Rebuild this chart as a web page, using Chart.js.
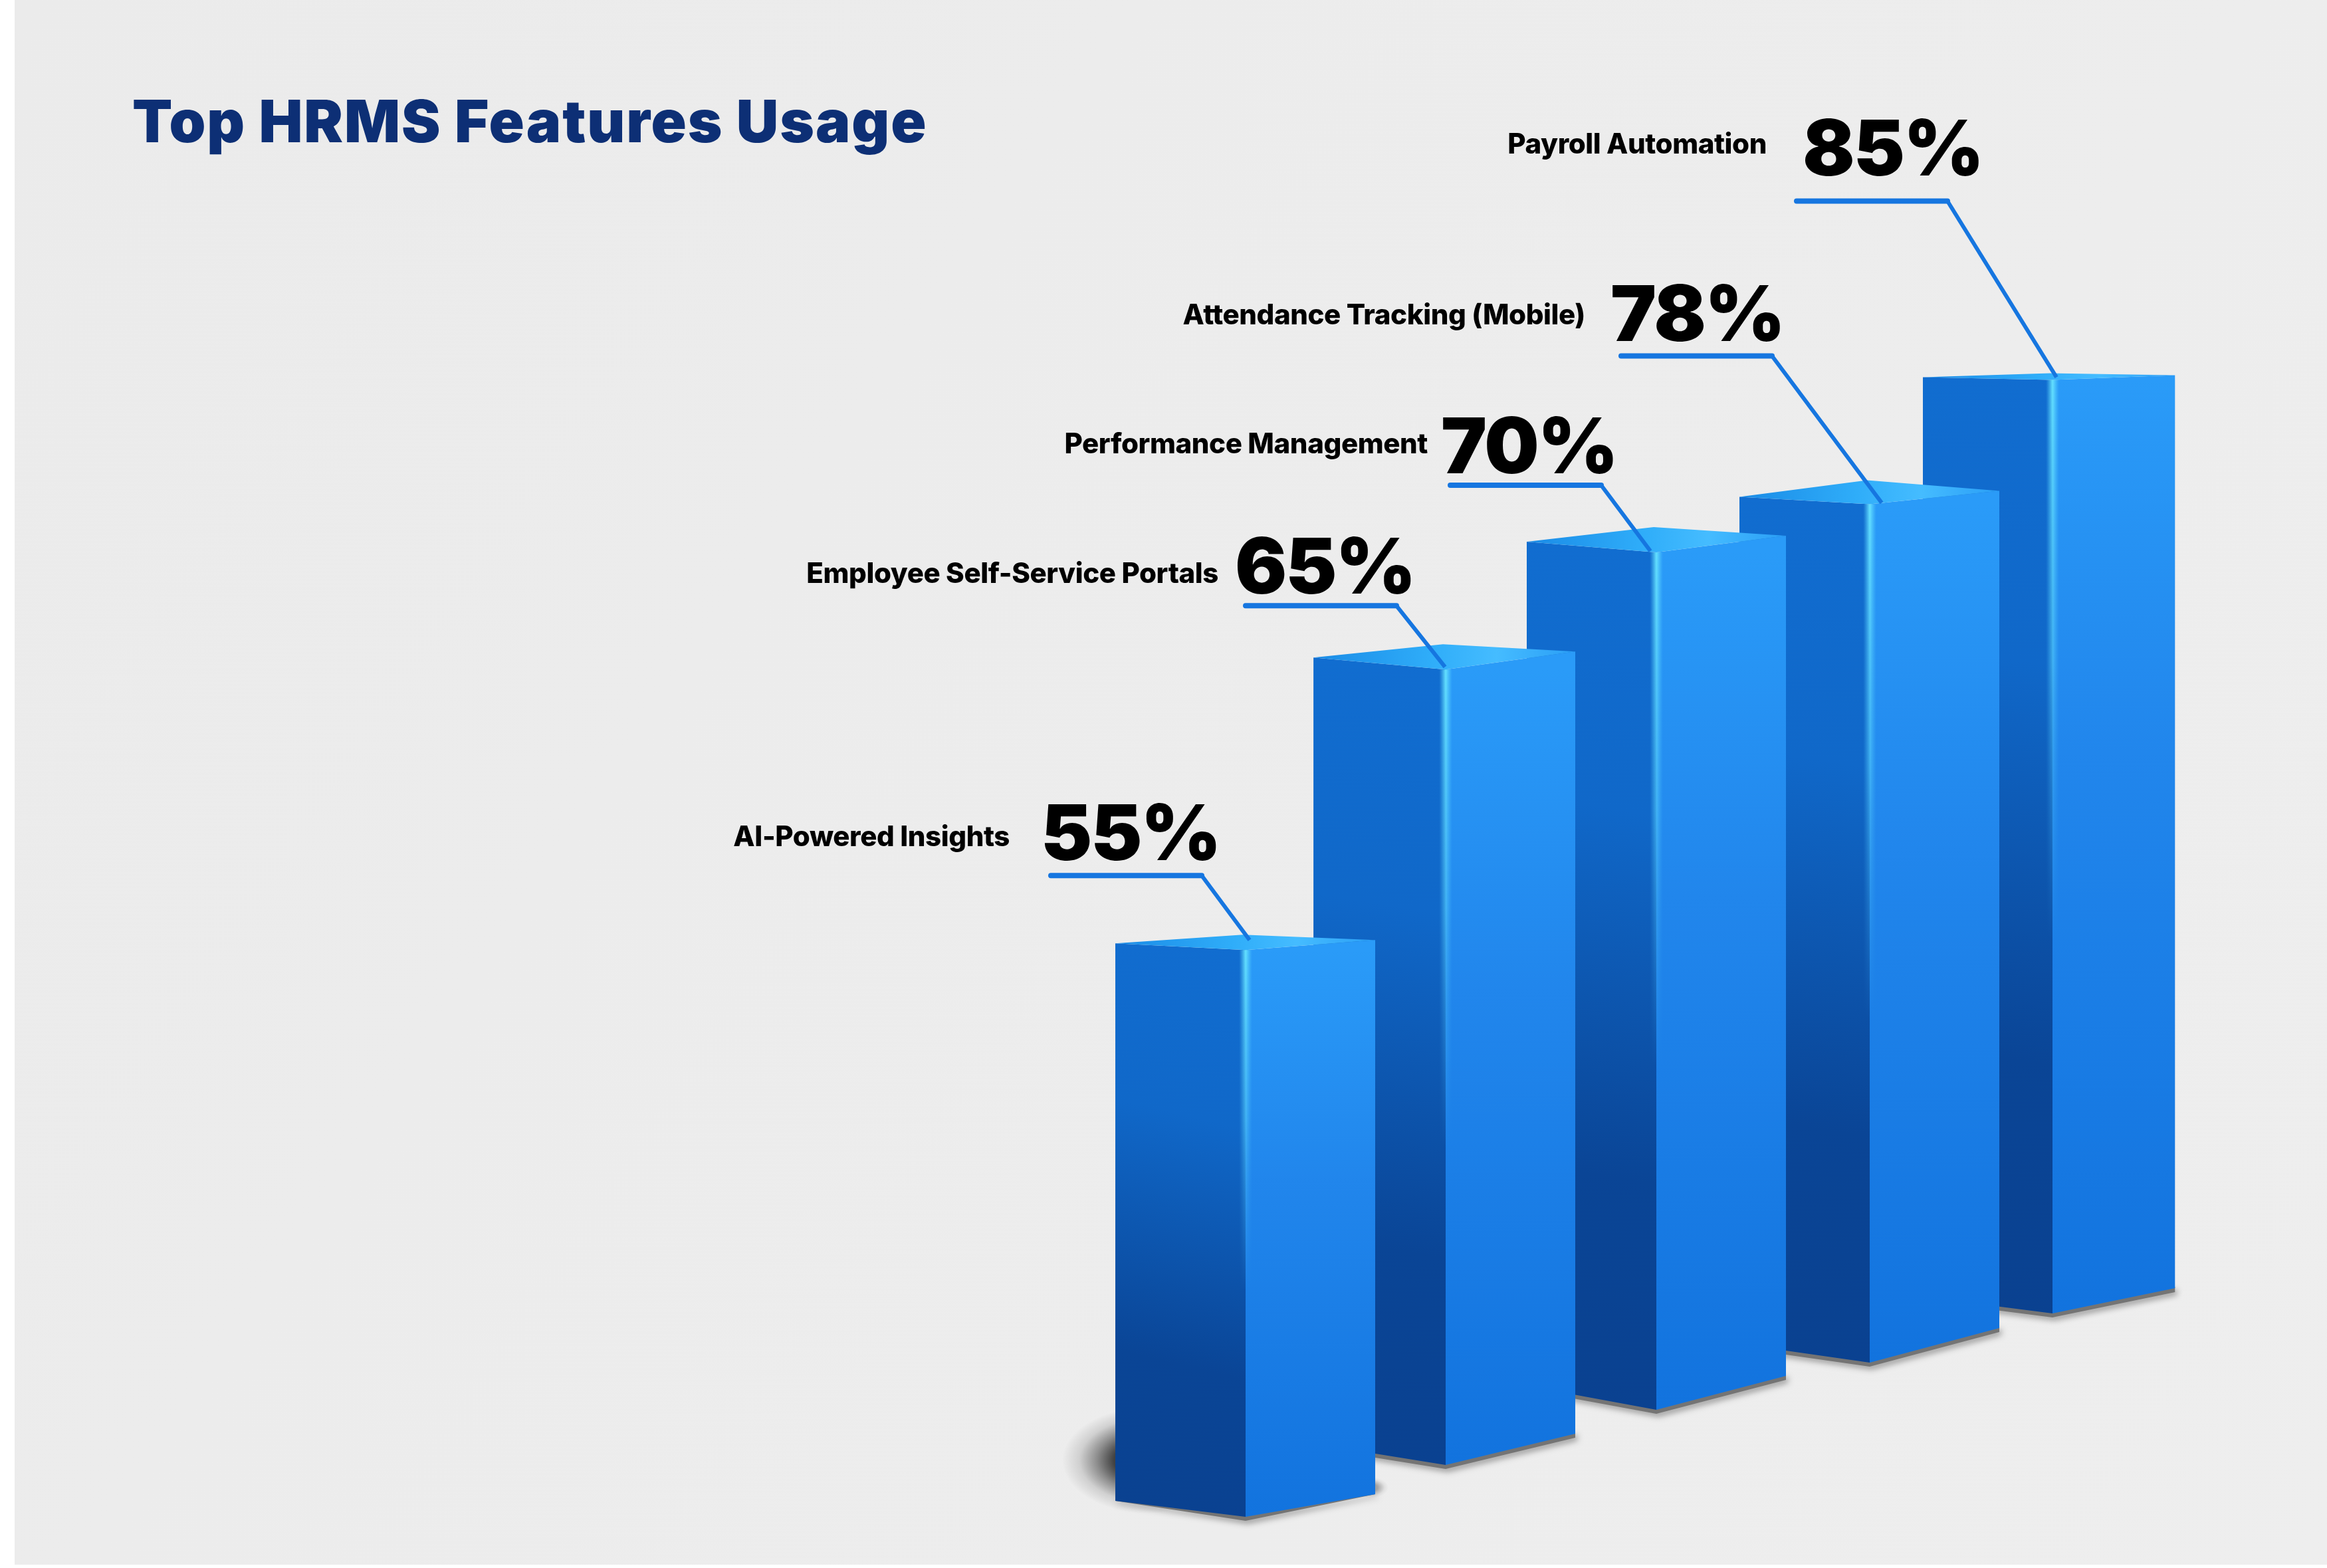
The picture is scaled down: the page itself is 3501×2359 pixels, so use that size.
<!DOCTYPE html>
<html>
<head>
<meta charset="utf-8">
<title>Top HRMS Features Usage</title>
<script src="https://cdn.jsdelivr.net/npm/chart.js@4"></script>
<style>
  html, body { margin: 0; background: #fff; }
  canvas { display: block; }
</style>
</head>
<body>
<canvas id="usageChart" width="3501" height="2359"></canvas>
<script>
const chartTitle = 'Top HRMS Features Usage';
const features = ['AI-Powered Insights', 'Employee Self-Service Portals', 'Performance Management', 'Attendance Tracking (Mobile)', 'Payroll Automation'];
const usage = [55, 65, 70, 78, 85];

// how each column sits on the receding floor
const sideShift = [1, -2, 11, 28, -1];
const floorLift = [0, 78, 161, 232, 306];
const heightGain = [0.912, 1.083, 1.084, 0.974, 0.972];
const leftGain = [1.005, 1.02, 1, 1.005, 1];
const rightGain = [1, 1, 1, 1, 0.945];
const capLeft = [10, 18, 16, 11, 4];
const capRight = [15, 27, 25, 20, 7];
const capBack = [23, 38, 38, 36, 10];
const footLeft = [24, 32, 36, 28, 25];
const footRight = [34, 47, 51, 52, 38];

// callouts, all relative to the column's front top corner
const kneeRise = [112, 96, 101, 223, 269];
const kneeRun = [66, 74, 83, 147, 158];
const tipRun = [6, -1, -9, 18, 6];
const tipRise = [15, 4, 2, 2, 4];
const valueLeft = [242, 243, 241, 243, 218];
const valueRise = [23, 18, 18, 22, 38];
const labelGap = [47, 25, 20, 38, 54];
const labelRise = [44, 34, 48, 47, 71];

const FONT = 'Inter, Lato, sans-serif';

function columnShape(el, i) {
    const half = el.width / 2;
    const floor = el.base - floorLift[i];
    const top = floor - (el.base - el.y) * heightGain[i];
    const x = el.x + sideShift[i];
    return { x, left: x - half * leftGain[i], right: x + half * rightGain[i], floor, top };
}

function softBlob(ctx, x, y, rx, ry, alpha) {
    ctx.save();
    ctx.translate(x, y);
    ctx.scale(rx, ry);
    const blob = ctx.createRadialGradient(0, 0, 0, 0, 0, 1);
    blob.addColorStop(0, `rgba(0,0,0,${alpha})`);
    blob.addColorStop(0.4, `rgba(0,0,0,${alpha * 0.9})`);
    blob.addColorStop(0.6, `rgba(0,0,0,${alpha * 0.5})`);
    blob.addColorStop(0.8, `rgba(0,0,0,${alpha * 0.15})`);
    blob.addColorStop(1, 'rgba(0,0,0,0)');
    ctx.fillStyle = blob;
    ctx.beginPath();
    ctx.arc(0, 0, 1, 0, Math.PI * 2);
    ctx.fill();
    ctx.restore();
}

function drawFloorShadow(ctx, c, i) {
    if (i === 0) {
        // the front column throws a wider soft shadow
        softBlob(ctx, c.left + 50, c.floor - 85, 130, 80, 0.8);
        softBlob(ctx, c.right - 8, c.floor - 44, 28, 16, 0.35);
    }
    // grey plinth strip along the two lower edges
    const plinth = i === 0 ? 0 : 6;
    ctx.save();
    ctx.shadowColor = 'rgba(0,0,0,0.4)';
    ctx.shadowBlur = 10;
    ctx.shadowOffsetX = 3;
    ctx.shadowOffsetY = 4;
    ctx.fillStyle = '#747474';
    ctx.beginPath();
    ctx.moveTo(c.left, c.floor - footLeft[i] - 2);
    ctx.lineTo(c.x, c.floor - 2);
    ctx.lineTo(c.right, c.floor - footRight[i] - 2);
    ctx.lineTo(c.right, c.floor - footRight[i] + plinth);
    ctx.lineTo(c.x, c.floor + 6);
    ctx.lineTo(c.left, c.floor - footLeft[i] + plinth);
    ctx.closePath();
    ctx.fill();
    ctx.restore();
}

function drawColumn(ctx, c, i) {
    const h = c.floor - c.top;

    // left face, darkening towards the floor
    const shade = ctx.createLinearGradient(c.x, c.top, c.left, c.floor);
    shade.addColorStop(0, '#116dd0');
    shade.addColorStop(0.3, '#1068c9');
    shade.addColorStop(0.72, '#0a4596');
    shade.addColorStop(1, '#0a4190');
    ctx.fillStyle = shade;
    ctx.beginPath();
    ctx.moveTo(c.left, c.top - capLeft[i]);
    ctx.lineTo(c.x, c.top);
    ctx.lineTo(c.x, c.floor);
    ctx.lineTo(c.left, c.floor - footLeft[i]);
    ctx.closePath();
    ctx.fill();

    // right face
    const lit = ctx.createLinearGradient(0, c.top, 0, c.floor);
    lit.addColorStop(0, '#2a9bf8');
    lit.addColorStop(0.4, '#2186ec');
    lit.addColorStop(1, '#1273de');
    ctx.fillStyle = lit;
    ctx.beginPath();
    ctx.moveTo(c.x, c.top);
    ctx.lineTo(c.right, c.top - capRight[i]);
    ctx.lineTo(c.right, c.floor - footRight[i]);
    ctx.lineTo(c.x, c.floor);
    ctx.closePath();
    ctx.fill();

    // top cap
    const cap = ctx.createLinearGradient(c.left, 0, c.right, 0);
    cap.addColorStop(0, '#1a8be6');
    cap.addColorStop(0.45, '#2fadf9');
    cap.addColorStop(0.7, '#45bcff');
    cap.addColorStop(1, '#2a9ef6');
    ctx.fillStyle = cap;
    ctx.beginPath();
    ctx.moveTo(c.left, c.top - capLeft[i]);
    ctx.lineTo(c.x - 4, c.top - capBack[i]);
    ctx.lineTo(c.right, c.top - capRight[i]);
    ctx.lineTo(c.x, c.top);
    ctx.closePath();
    ctx.fill();

    // glint running down the front edge
    for (let dx = -10; dx < 10; dx++) {
        const a = Math.pow(1 - Math.abs(dx + 0.5) / 10, 1.2);
        const len = h * 0.6;
        const glint = ctx.createLinearGradient(0, c.top, 0, c.top + len);
        glint.addColorStop(0, `rgba(100,225,255,${a})`);
        glint.addColorStop(0.5, `rgba(80,200,250,${a * 0.7})`);
        glint.addColorStop(1, 'rgba(60,170,240,0)');
        ctx.fillStyle = glint;
        ctx.fillRect(c.x + dx, c.top, 1, len);
    }
}

function drawCallout(ctx, c, i) {
    const kneeX = c.x - kneeRun[i];
    const kneeY = c.top - kneeRise[i];

    ctx.strokeStyle = '#1676e0';
    ctx.lineCap = 'butt';
    ctx.lineWidth = 6;
    ctx.beginPath();
    ctx.moveTo(kneeX, kneeY);
    ctx.lineTo(c.x + tipRun[i], c.top - tipRise[i]);
    ctx.stroke();
    ctx.lineCap = 'round';
    ctx.lineWidth = 8;
    ctx.beginPath();
    ctx.moveTo(kneeX - 227, kneeY);
    ctx.lineTo(kneeX, kneeY);
    ctx.stroke();

    ctx.fillStyle = '#000';
    ctx.textAlign = 'left';
    ctx.textBaseline = 'alphabetic';
    const valueX = kneeX - valueLeft[i];
    ctx.font = `900 116px ${FONT}`;
    ctx.letterSpacing = '-2px';
    ctx.fillText(usage[i] + '%', valueX, kneeY - valueRise[i]);

    ctx.textAlign = 'right';
    ctx.font = `800 42px ${FONT}`;
    ctx.letterSpacing = '-0.4px';
    ctx.fillText(features[i], valueX - labelGap[i], kneeY - labelRise[i]);
    ctx.letterSpacing = '0px';
}

const columnPainter = {
    id: 'columnPainter',
    beforeDraw(chart) {
        const ctx = chart.ctx;
        ctx.save();
        const panel = ctx.createLinearGradient(22, 0, chart.width, 2354);
        panel.addColorStop(0, '#ebebeb');
        panel.addColorStop(1, '#eeeeee');
        ctx.fillStyle = panel;
        ctx.fillRect(22, 0, chart.width - 22, 2354);
        ctx.restore();
    },
    afterDatasetsDraw(chart) {
        const ctx = chart.ctx;
        const bars = chart.getDatasetMeta(0).data;
        ctx.save();
        // furthest column first so nearer ones overlap it
        for (let i = bars.length - 1; i >= 0; i--) {
            const c = columnShape(bars[i], i);
            drawFloorShadow(ctx, c, i);
            drawColumn(ctx, c, i);
        }
        bars.forEach((el, i) => drawCallout(ctx, columnShape(el, i), i));

        ctx.fillStyle = '#0d2f75';
        ctx.textAlign = 'left';
        ctx.textBaseline = 'alphabetic';
        ctx.font = `900 88px ${FONT}`;
        ctx.letterSpacing = '1.9px';
        ctx.fillText(chartTitle, 199, 214);
        ctx.restore();
    }
};

new Chart(document.getElementById('usageChart'), {
    type: 'bar',
    data: {
        labels: features,
        datasets: [{ label: 'Usage (%)', data: usage, backgroundColor: 'transparent', barThickness: 390 }]
    },
    options: {
        responsive: false,
        animation: false,
        layout: { padding: { left: 1721, right: 260, top: 582, bottom: 77 } },
        plugins: { legend: { display: false }, tooltip: { enabled: false }, title: { display: false } },
        scales: {
            x: { display: false },
            y: { display: false, min: 0, max: 100 }
        }
    },
    plugins: [columnPainter]
});
</script>
</body>
</html>
